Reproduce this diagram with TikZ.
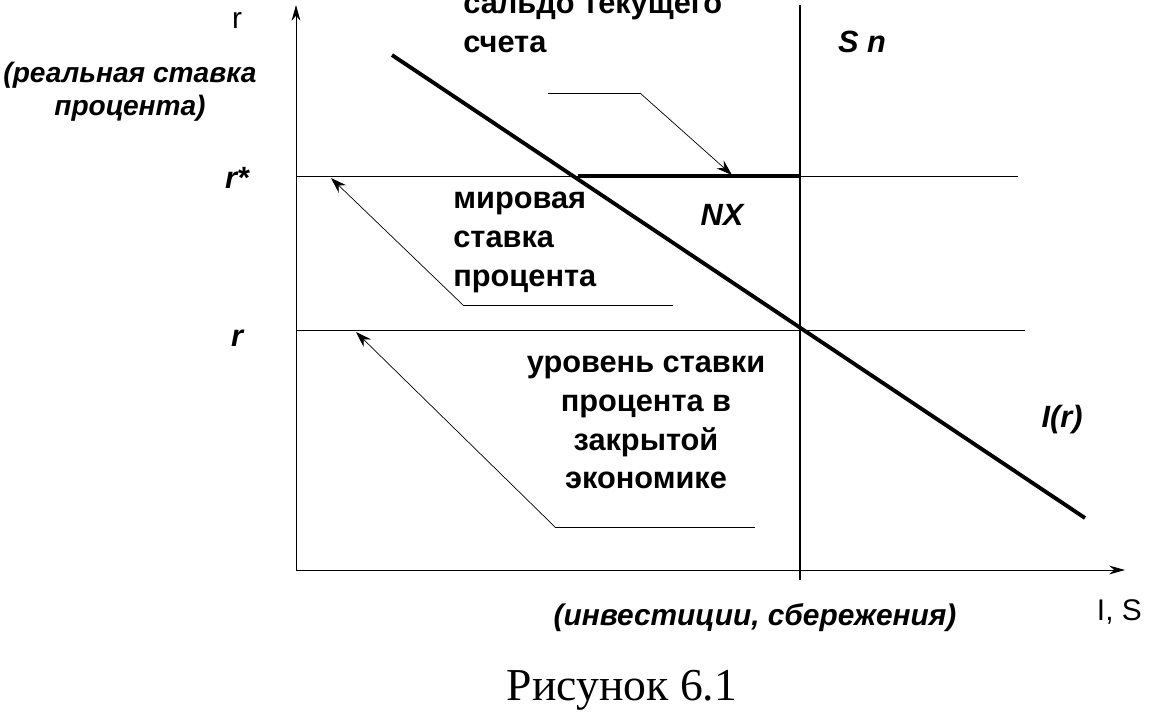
\documentclass[tikz,border=0pt]{standalone}
\usepackage{fontspec}
\setmainfont{Liberation Sans}
\newfontfamily\capfont{Liberation Serif}
\usetikzlibrary{arrows.meta}
\begin{document}
\begin{tikzpicture}[x=0.02cm, y=-0.02cm,
    lbl/.style = {font=\fontsize{17.5}{22}\selectfont\bfseries, align=left},
    ilbl/.style = {font=\fontsize{17.5}{22}\selectfont\bfseries\itshape},
    thin line/.style = {draw = black, line width = 0.5pt},
    lead/.style = {draw = black, line width = 0.4pt, -{Stealth[length=9pt, width=6pt]}}]
    \useasboundingbox (0, 0) rectangle (1150, 725);

    \coordinate (O) at (296, 570);
    \coordinate (Ytop) at (296, 5);
    \coordinate (Xend) at (1125, 570);
    \draw [thin line, -{Stealth[length=9pt, width=5pt]}] (O) -- (Ytop);
    \draw [thin line, -{Stealth[length=9pt, width=5pt]}] (O) -- (Xend);

    \coordinate (W1) at (296, 176);
    \coordinate (W2) at (1018, 176);
    \coordinate (C1) at (296, 330);
    \coordinate (C2) at (1025, 330);
    \draw [thin line] (W1) -- (W2);
    \draw [thin line] (C1) -- (C2);

    \coordinate (NX1) at (578, 176);
    \coordinate (NX2) at (800, 176);
    \draw [line width = 2.2pt] (NX1) -- (NX2);

    \coordinate (S1) at (800, 5);
    \coordinate (S2) at (800, 580);
    \draw [line width = 1.3pt] (S1) -- (S2);

    \coordinate (I1) at (392, 55);
    \coordinate (I2) at (1085, 518);
    \draw [line width = 2.2pt] (I1) -- (I2);

    \node [font=\fontsize{17}{22}\selectfont] (ry) at (237, 20) {r};
    \node [font=\fontsize{16}{19}\selectfont\bfseries\itshape, align=center] (rdesc) at (130, 92) {(реальная ставка\\процента)};
    \node [ilbl] (rstar) at (237, 178) {r*};
    \node [ilbl] (rclosed) at (237, 338) {r};
    \node [ilbl] (Sn) at (862, 42) {S n};
    \node [ilbl] (Ir) at (1062, 420) {I(r)};
    \node [ilbl] (NX) at (722, 215) {NX};
    \node [font=\fontsize{17}{22}\selectfont\bfseries\itshape] (xdesc) at (755, 618) {(инвестиции, сбережения)};
    \node [font=\fontsize{17}{22}\selectfont, anchor=east] (xs) at (1148, 612) {I, S};
    \node [font=\capfont\fontsize{26}{30}\selectfont] (cap) at (622, 690) {Рисунок 6.1};

    % сальдо
    \node [lbl, anchor=north west, inner sep=0pt] (saldo) at (463, -3) {сальдо текущего\\счета};
    \coordinate (L1a) at (548, 93);
    \coordinate (L1b) at (640, 93);
    \coordinate (L1c) at (732, 175);
    \draw [thin line] (L1a) -- (L1b);
    \draw [lead] (L1b) -- (L1c);

    % мировая ставка
    \node [lbl, anchor=north west, inner sep=0pt] (world) at (453, 192) {мировая\\ставка\\процента};
    \coordinate (L2a) at (463, 305);
    \coordinate (L2b) at (673, 305);
    \coordinate (L2c) at (331, 178);
    \draw [thin line] (L2a) -- (L2b);
    \draw [lead] (L2a) -- (L2c);

    % закрытая экономика
    \node [lbl, align=center, anchor=north, inner sep=0pt] (closed) at (646, 356) {уровень ставки\\процента в\\закрытой\\экономике};
    \coordinate (L3a) at (555, 527);
    \coordinate (L3b) at (755, 527);
    \coordinate (L3c) at (356, 332);
    \draw [thin line] (L3a) -- (L3b);
    \draw [lead] (L3a) -- (L3c);
\end{tikzpicture}
\end{document}
